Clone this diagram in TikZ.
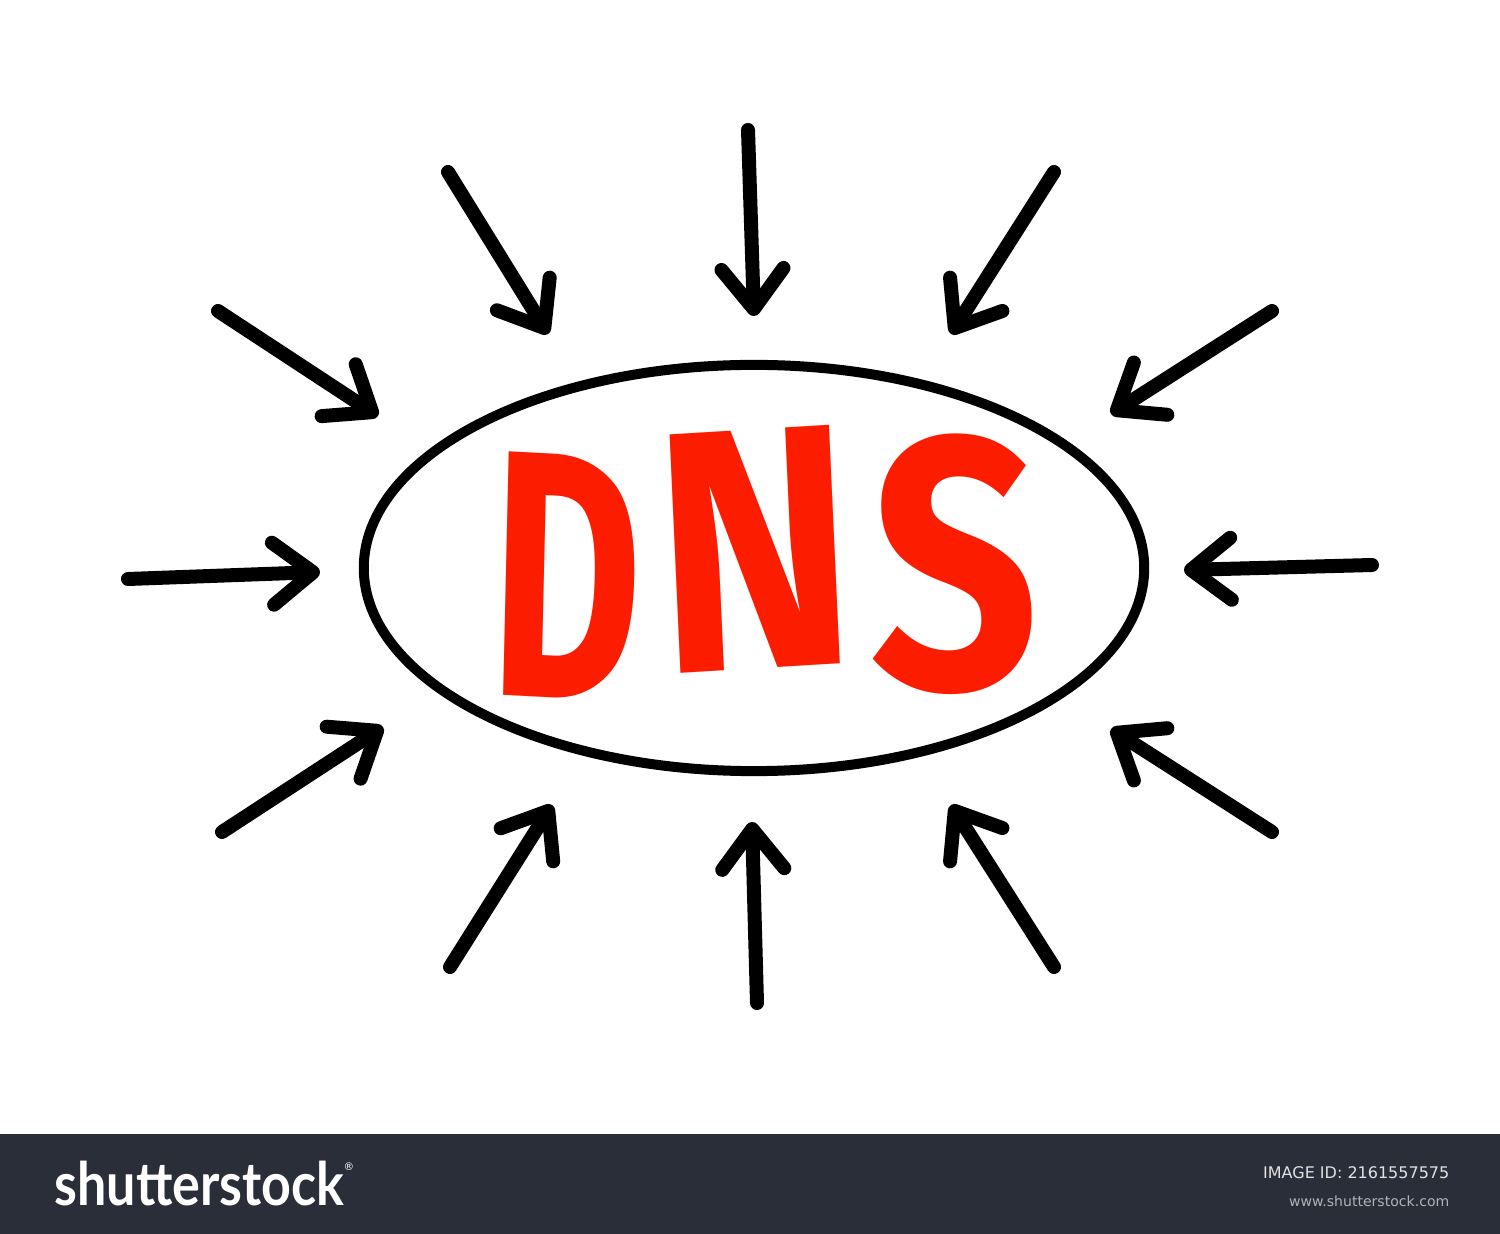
\documentclass[tikz,border=0pt]{standalone}
\usepackage{fontspec}
\setmainfont{Fira Sans}
\newfontfamily\idfont{DejaVu Sans}
\newfontfamily\logofont{Lato}
\usetikzlibrary{arrows.meta,shapes.geometric}
\definecolor{dnsred}{RGB}{252,28,0}
\definecolor{banner}{RGB}{41,46,57}
\definecolor{idgray}{RGB}{226,226,226}
\definecolor{wwwgray}{RGB}{176,178,182}
\tikzset{
  inarrow/.style={line width=0.14cm, line cap=round, line join=round,
    -{Straight Barb[length=0.40cm, width=0.62cm, round]}},
  letter/.style={text=dnsred, inner sep=0pt, font=\fontsize{100}{100}\selectfont\bfseries},
}
\begin{document}
\begin{tikzpicture}[x=0.01cm, y=-0.01cm]
\useasboundingbox (0,0) rectangle (1500,1234);
\fill[white] (0,0) rectangle (1500,1234);
% central ellipse
\node[draw, ellipse, line width=0.1cm, minimum width=7.80cm, minimum height=4.06cm, inner sep=0pt] (oval) at (754,568) {};
% letters
\node[letter, xscale=0.66, yscale=1.0, rotate=-2] (d) at (567,577) {D};
\node[letter, xscale=0.85, yscale=0.98, rotate=3] (n) at (755,549) {N};
\node[letter, xscale=0.84, yscale=1.02] (s) at (955,564) {S};
% arrow endpoints
\coordinate (t1) at (748,130);  \coordinate (h1) at (754,316);
\coordinate (t2) at (448,172);  \coordinate (h2) at (548,334);
\coordinate (t3) at (1054,172); \coordinate (h3) at (951,334);
\coordinate (t4) at (218,311);  \coordinate (h4) at (378,416);
\coordinate (t5) at (1272,311); \coordinate (h5) at (1111,414);
\coordinate (t6) at (128,579);  \coordinate (h6) at (320,572);
\coordinate (t7) at (1372,565); \coordinate (h7) at (1184,570);
\coordinate (t8) at (222,832);  \coordinate (h8) at (383,727);
\coordinate (t9) at (1272,832); \coordinate (h9) at (1111,729);
\coordinate (t10) at (450,967); \coordinate (h10) at (552,805);
\coordinate (t11) at (757,1003);\coordinate (h11) at (752,822);
\coordinate (t12) at (1054,967);\coordinate (h12) at (951,805);
\foreach \i in {1,...,12} \draw[inarrow] (t\i) -- (h\i);
% banner
\fill[banner] (0,1134) rectangle (1500,1234);
\node[anchor=west, text=white, inner sep=0pt, xscale=0.87, font=\logofont\bfseries\fontsize{17}{17}\selectfont] (logo) at (54,1184) {shutterstock};
\node[anchor=west, text=white, inner sep=0pt, font=\idfont\fontsize{3}{3}\selectfont] (reg) at (343,1167) {®};
\node[anchor=east, text=idgray, inner sep=0pt, font=\idfont\fontsize{4.55}{4.55}\selectfont] (imgid) at (1450,1173) {IMAGE ID: 2161557575};
\node[anchor=east, text=wwwgray, inner sep=0pt, font=\idfont\fontsize{4.0}{4.0}\selectfont] (www) at (1450,1201) {www.shutterstock.com};
\end{tikzpicture}
\end{document}
